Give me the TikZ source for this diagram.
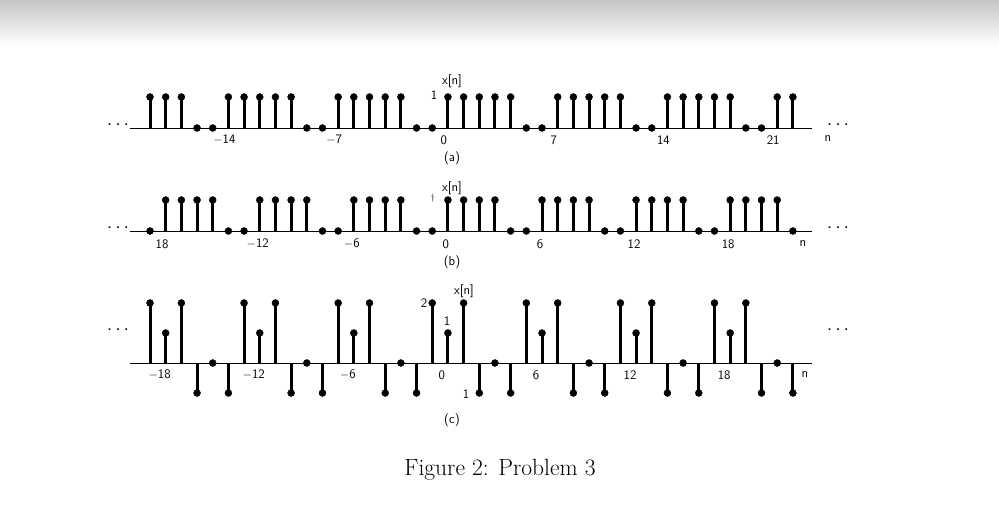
\documentclass[tikz,border=0pt]{standalone}
\usepackage{amsmath}
\usepackage{xcolor}
\usepackage{pgf, tikz}

\tikzset{
    stem/.style={line width=3pt, line cap=butt},
    lab/.style={font=\sffamily\fontsize{13}{13}\selectfont, inner sep=1pt},
    captext/.style={font=\fontsize{23.5}{26}\selectfont}
}
\newcommand{\xn}[1]{150+(#1+19)*15.68}
\newcommand{\tick}[1]{\ifnum#1<0 \ensuremath{-}\number-#1\else#1\fi}
\newcommand{\dotsfar}{\textbf{.\,\,.\,\,.}}

\begin{document}
\begin{tikzpicture}[x=1pt, y=-1pt]
        \useasboundingbox (0, 0) rectangle (999, 511);
        \shade[top color=gray!45, bottom color=white] (0, 0) rectangle (999, 45);

        % (a)
        \draw (130, 128) -- (812, 128);
        \foreach \n in {-19, ..., 22} {
            \pgfmathtruncatemacro{\m}{mod(\n + 70, 7)}
            \ifnum\m<5
                \draw[stem] ({\xn{\n}}, 128) -- ({\xn{\n}}, 97);
                \filldraw ({\xn{\n}}, 97) circle (3.5pt);
            \else
                \filldraw ({\xn{\n}}, 128) circle (3.5pt);
            \fi
        }
        \node[lab] (xa) at (452, 81) {x[n]};
        \node[lab] (onea) at (434, 95) {1};
        \foreach \n in {-14, -7, 0, 7, 14, 21}
            \node[lab] at ({\xn{\n} - 4}, 140) {\tick{\n}};
        \node[lab] (na) at (828, 139) {n};
        \node[lab] (la) at (452, 158) {(a)};
        \node[lab] at (118, 125) {\dotsfar};
        \node[lab] at (838, 125) {\dotsfar};

        % (b)
        \draw (130, 231) -- (812, 231);
        \foreach \n in {-19, ..., 22} {
            \pgfmathtruncatemacro{\m}{mod(\n + 60, 6)}
            \ifnum\m<4
                \draw[stem] ({\xn{\n}}, 231) -- ({\xn{\n}}, 200);
                \filldraw ({\xn{\n}}, 200) circle (3.5pt);
            \else
                \filldraw ({\xn{\n}}, 231) circle (3.5pt);
            \fi
        }
        \node[lab] (xb) at (452, 188) {x[n]};
        \node[lab] (oneb) at (433, 198) {\textsf{\small\textdagger}};
        \node[lab] at (162, 244) {18};
        \foreach \n in {-12, -6, 0, 6, 12, 18}
            \node[lab] at ({\xn{\n} - 2}, 244) {\tick{\n}};
        \node[lab] (nb) at (803, 244) {n};
        \node[lab] (lb) at (452, 262) {(b)};
        \node[lab] at (118, 228) {\dotsfar};
        \node[lab] at (838, 228) {\dotsfar};

        % (c)
        \draw (130, 363) -- (812, 363);
        \foreach \n in {-19, ..., 22} {
            \pgfmathtruncatemacro{\m}{mod(\n + 60, 6)}
            \ifcase\m
                \def\v{1}\or\def\v{2}\or\def\v{-1}\or\def\v{0}\or\def\v{-1}\or\def\v{2}
            \fi
            \ifnum\v=0
                \filldraw ({\xn{\n}}, 363) circle (3.5pt);
            \else
                \draw[stem] ({\xn{\n}}, 363) -- ({\xn{\n}}, 363 - 30*\v);
                \filldraw ({\xn{\n}}, 363 - 30*\v) circle (3.5pt);
            \fi
        }
        \node[lab] (xc) at (464, 291) {x[n]};
        \node[lab] (twoc) at (424, 303) {2};
        \node[lab] (onec) at (447, 321) {1};
        \node[lab] (monec) at (466, 394) {1};
        \foreach \n in {-18, -12, -6, 0, 6, 12, 18}
            \node[lab] at ({\xn{\n} - 6}, 375) {\tick{\n}};
        \node[lab] (nc) at (805, 375) {n};
        \node[lab] (lc) at (452, 420) {(c)};
        \node[lab] at (118, 330) {\dotsfar};
        \node[lab] at (838, 330) {\dotsfar};

        \node[captext] (fig) at (500, 470) {Figure 2: Problem 3};
    \end{tikzpicture}
\end{document}
